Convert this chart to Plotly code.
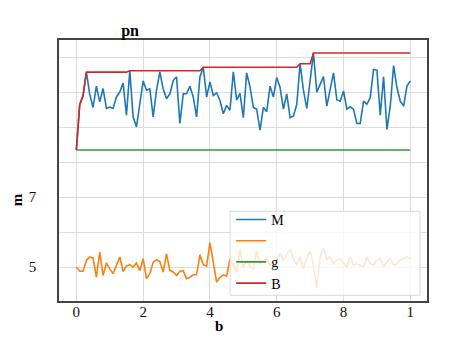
import plotly.graph_objects as go

x_vals = [round(i * 0.1, 1) for i in range(101)]

blue = [8.35, 9.65, 9.90, 10.58, 9.95, 9.57, 10.18, 9.73, 10.11, 9.54,
        9.58, 9.54, 9.87, 10.01, 10.27, 9.35, 10.62, 9.30, 9.01, 9.68,
        10.33, 10.06, 10.10, 9.30, 10.06, 10.59, 10.10, 9.82, 9.96, 10.34,
        10.45, 9.11, 9.96, 9.96, 10.18, 9.87, 9.30, 10.44, 10.72, 9.87,
        10.30, 9.91, 9.99, 9.77, 9.39, 9.63, 9.49, 10.59, 9.78, 9.97,
        9.28, 10.56, 10.16, 9.57, 9.52, 8.92, 9.57, 9.45, 10.18, 9.87,
        10.43, 10.14, 9.52, 9.96, 9.28, 9.32, 9.66, 10.82, 10.06, 9.54,
        10.34, 11.13, 10.01, 10.25, 10.45, 9.61, 10.14, 10.56, 9.79, 9.75,
        10.04, 9.52, 9.59, 9.52, 9.11, 9.11, 9.75, 9.66, 9.85, 10.66,
        10.64, 9.35, 10.45, 8.94, 9.61, 10.77, 10.14, 9.75, 9.61, 10.18,
        10.33]

orange = [5.00, 4.88, 4.88, 5.19, 5.29, 5.26, 4.71, 5.43, 4.76, 5.12,
          4.95, 4.81, 5.05, 5.29, 4.88, 5.03, 5.07, 5.00, 5.12, 4.90,
          5.24, 4.67, 4.81, 5.14, 5.21, 5.16, 4.86, 5.38, 4.90, 4.86,
          4.76, 4.88, 4.90, 4.67, 4.71, 4.78, 4.78, 5.35, 5.07, 5.03,
          5.70, 5.14, 4.57, 4.71, 4.78, 4.74, 5.24, 5.05, 4.85, 5.52,
          4.98, 5.20, 5.00, 4.95, 5.45, 5.10, 5.15, 5.25, 5.05, 5.15,
          5.20, 5.40, 5.20, 5.35, 5.50, 5.25, 5.05, 5.30, 4.95, 5.25,
          5.45, 5.05, 4.40, 5.30, 5.55, 5.20, 5.30, 5.10, 5.20, 5.25,
          5.10, 5.00, 5.30, 5.05, 5.10, 5.05, 5.00, 5.30, 5.10, 5.05,
          5.20, 5.25, 5.00, 5.15, 5.25, 5.05, 5.10, 5.20, 5.25, 5.30,
          5.25]

green = [8.35] * 101

red = ([8.35, 9.65, 9.90] + [10.58] * 13 + [10.62] * 22 + [10.72] * 29
       + [10.82] * 4 + [11.13] * 30)

x_ticks = [0, 2, 4, 6, 8, 10]
x_tick_text = ["0", "2", "4", "6", "8", "1"]
y_ticks = [5, 6, 7, 8, 9, 10, 11]
y_tick_text = ["5", "", "7", "", "", "", ""]

names = ["M", "\u00a0", "g", "B"]
colors = ["#1f77b4", "#ff7f0e", "#2ca02c", "#d62728"]

FONT = "Liberation Serif"

fig = go.Figure()
for name, ys, c in zip(names, [blue, orange, green, red], colors):
    fig.add_trace(go.Scatter(x=x_vals, y=ys, mode="lines", name=name,
                             line=dict(color=c, width=1.6)))

fig.update_layout(
    width=474, height=338,
    margin=dict(l=59, r=47, t=40, b=37),
    paper_bgcolor="white", plot_bgcolor="white",
    font=dict(family=FONT, size=15, color="#000"),
    title=dict(text="<b>pn</b>", x=0.193, xref="paper", xanchor="center",
               y=1 - 30 / 338, yref="container", yanchor="middle",
               font=dict(family=FONT, size=16, color="#000")),
    showlegend=True,
    legend=dict(x=0.468, y=0.372, xanchor="left", yanchor="top",
                bgcolor="rgba(0,0,0,0)", borderwidth=0,
                font=dict(family=FONT, size=14, color="#000"),
                tracegroupgap=0),
    shapes=[dict(type="rect", xref="paper", yref="paper",
                 x0=0.465, x1=0.981, y0=0.022, y1=0.344,
                 fillcolor="rgba(255,255,255,0.8)",
                 line=dict(color="#d8d8d8", width=1), layer="above")],
    annotations=[
        dict(text="<b>b</b>", xref="paper", yref="paper", x=0.435, y=-0.097,
             showarrow=False, xanchor="center", yanchor="middle",
             font=dict(family=FONT, size=15, color="#000")),
        dict(text="<b>m</b>", xref="paper", yref="paper", x=-0.114, y=0.386,
             showarrow=False, textangle=-90, xanchor="center", yanchor="middle",
             font=dict(family=FONT, size=15, color="#000")),
    ],
)

fig.update_xaxes(range=[-0.52, 10.5], tickvals=x_ticks, ticktext=x_tick_text,
                 showgrid=True, gridcolor="#dcdcdc", gridwidth=1,
                 zeroline=False, showline=True, linecolor="#444", linewidth=1.5,
                 mirror=True, ticks="", ticklabelstandoff=-4,
                 tickfont=dict(family=FONT, size=15, color="#111"))
fig.update_yaxes(range=[4.03, 11.5], tickvals=y_ticks, ticktext=y_tick_text,
                 showgrid=True, gridcolor="#dcdcdc", gridwidth=1,
                 zeroline=False, showline=True, linecolor="#444", linewidth=1.5,
                 mirror=True, ticks="", ticklabelstandoff=18,
                 tickfont=dict(family=FONT, size=15, color="#111"))

fig.write_html("out.html")
